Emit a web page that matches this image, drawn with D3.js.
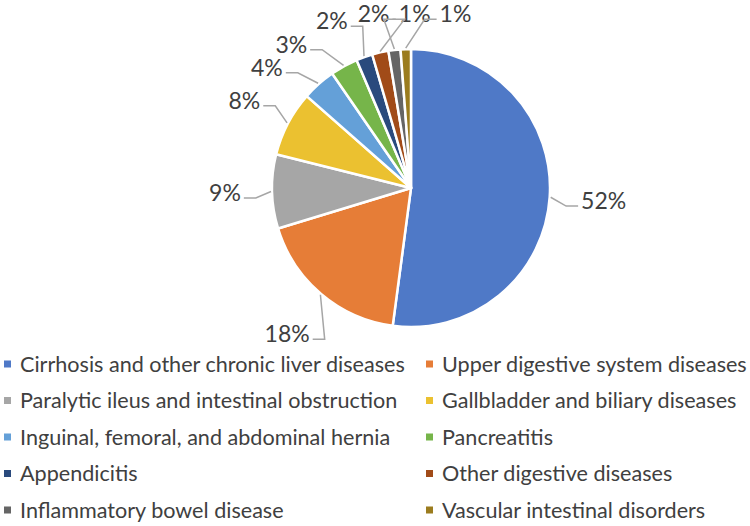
<!DOCTYPE html>
<html>
<head>
<meta charset="utf-8">
<script src="https://cdn.jsdelivr.net/npm/d3@7"></script>
<style>
  body { margin: 0; background: #fff; }
  svg text { font-family: Lato, "Open Sans", sans-serif; fill: #404040; }
</style>
</head>
<body>
<div id="container"></div>
<script>
// Share of digestive disease deaths by cause (percent)
const categories = [
    "Cirrhosis and other chronic liver diseases",
    "Upper digestive system diseases",
    "Paralytic ileus and intestinal obstruction",
    "Gallbladder and biliary diseases",
    "Inguinal, femoral, and abdominal hernia",
    "Pancreatitis",
    "Appendicitis",
    "Other digestive diseases",
    "Inflammatory bowel disease",
    "Vascular intestinal disorders"
];
const shares = [52.1, 18.2, 8.6, 7.6, 3.9, 3.2, 1.9, 1.9, 1.4, 1.2];
const palette = ["#4F79C7", "#E67D37", "#A6A6A6", "#EBC130", "#64A0D8",
                 "#76B54A", "#2A4A7D", "#A14B18", "#656565", "#9B7C1E"];

const width = 750;
const height = 526;
const cx = 411, cy = 188, radius = 139;

const data = categories.map((name, i) => ({name, value: shares[i]}));
const color = d3.scaleOrdinal(categories, palette);
const pct = d3.format(".0%");

const svg = d3.create("svg")
    .attr("width", width)
    .attr("height", height)
    .attr("viewBox", [0, 0, width, height]);
d3.select("#container").append(() => svg.node());

const pie = d3.pie().sort(null).value(d => d.value);
const arcs = pie(data);
const arc = d3.arc().innerRadius(0).outerRadius(radius);

const g = svg.append("g").attr("transform", `translate(${cx},${cy})`);

g.selectAll("path")
    .data(arcs)
    .join("path")
    .attr("d", arc)
    .attr("fill", d => color(d.data.name))
    .attr("stroke", "#fff")
    .attr("stroke-width", 2.5)
    .attr("stroke-linejoin", "round");

// fit a font size so that a string gets a target width
function fitSize(str, target) {
    const t = svg.append("text").attr("font-size", 20).text(str);
    const w = t.node().getComputedTextLength();
    t.remove();
    return 20 * target / w;
}

const labelSize = 23;
const legendSize = fitSize(categories[0], 385);

// Data labels: sit a fixed gap outside the slice, pushed apart when they collide
const gap = 31;
const labels = arcs.map(d => {
    const a = (d.startAngle + d.endAngle) / 2;
    return {arc: d, mid: a, a: a, text: pct(d.data.value / 100)};
});

const lg = g.append("g");
const labelText = lg.selectAll("text")
    .data(labels)
    .join("text")
    .attr("font-size", labelSize)
    .attr("text-anchor", "middle")
    .attr("dy", "0.36em")
    .text(d => d.text);

labelText.each(function (d) {
    d.w = this.getComputedTextLength();
    d.h = labelSize * 0.78;
});

function place(d) {
    const s = Math.sin(d.a), c = Math.cos(d.a);
    const r = radius + gap + Math.abs(s) * d.w / 2 + Math.abs(c) * d.h / 2;
    d.x = r * s;
    // keep labels inside the top edge of the picture
    d.y = Math.max(-r * c, -cy + d.h / 2 + 5);
}
labels.forEach(place);

for (let iter = 0; iter < 800; iter++) {
    let moved = false;
    for (let i = 0; i < labels.length; i++) {
        for (let j = i + 1; j < labels.length; j++) {
            const p = labels[i], q = labels[j];
            const ox = (p.w + q.w) / 2 + 9 - Math.abs(p.x - q.x);
            const oy = (p.h + q.h) / 2 + 5 - Math.abs(p.y - q.y);
            if (ox > 0 && oy > 0) {
                p.a -= 0.004;
                q.a += 0.004;
                place(p);
                place(q);
                moved = true;
            }
        }
    }
    if (!moved) break;
}

labelText.attr("x", d => d.x).attr("y", d => d.y);

// Leader lines from slice edge to label
const leaders = labels.map(d => {
    const px = (radius + 1) * Math.sin(d.mid);
    const py = -(radius + 1) * Math.cos(d.mid);
    const right = d.x >= px;
    const ax = right ? d.x - d.w / 2 - 3 : d.x + d.w / 2 + 3;
    const ay = d.y + d.h * 0.3;
    const ex = right ? ax - 12 : ax + 12;
    return {pts: [[px, py], [ex, ay], [ax, ay]], dist: Math.hypot(ax - px, ay - py)};
}).filter(d => d.dist > 24);

lg.selectAll("path")
    .data(leaders)
    .join("path")
    .attr("d", d => d3.line()(d.pts))
    .attr("fill", "none")
    .attr("stroke", "#A6A6A6")
    .attr("stroke-width", 1.5);

// Legend, two columns
const colX = d3.scalePoint().domain([0, 1]).range([4, 426]);
const rowY = d3.scaleLinear().domain([0, 4]).range([364, 510]);

const legend = svg.append("g")
    .selectAll("g")
    .data(categories)
    .join("g")
    .attr("transform", (d, i) => `translate(${colX(i % 2)},${rowY(Math.floor(i / 2))})`);

legend.append("rect")
    .attr("x", 0)
    .attr("y", -3.5)
    .attr("width", 7)
    .attr("height", 7)
    .attr("fill", d => color(d));

legend.append("text")
    .attr("x", 16)
    .attr("dy", "0.36em")
    .attr("font-size", legendSize)
    .text(d => d);
</script>
</body>
</html>
